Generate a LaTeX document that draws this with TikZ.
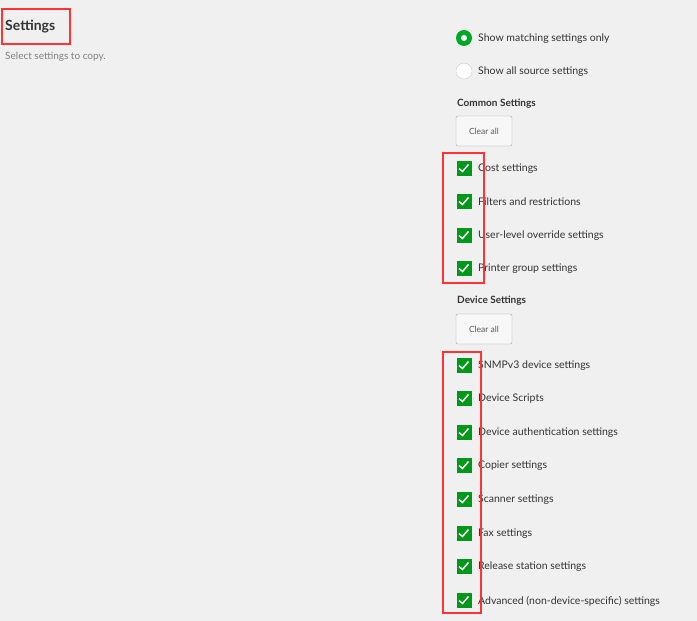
\documentclass[tikz,border=0pt]{standalone}
\usepackage{fontspec}
\setmainfont{Lato}
\begin{document}
\begin{tikzpicture}[x=1pt,y=-1pt,
 lbl/.style={anchor=west,inner sep=0,font=\fontsize{10.5}{12}\selectfont,text=black!80},
 chk/.style={fill=green!55!black!90!cyan,minimum size=15,inner sep=0,draw=none},
 redbox/.style={draw=red!80!white,line width=2.2pt},
 btn/.style={draw=gray!70,fill=gray!6,rounded corners=2,minimum width=56,minimum height=30,font=\fontsize{8.5}{10}\selectfont,text=black!65}]
\fill[gray!12] (0,0) rectangle (697,621);
\useasboundingbox (0,0) rectangle (697,621);
\node[anchor=west,inner sep=0,font=\bfseries\fontsize{14}{16}\selectfont,text=black!80] (title) at (5,27) {Settings};
\node[anchor=west,inner sep=0,font=\fontsize{10}{12}\selectfont,text=gray] (sub) at (5,57) {Select settings to copy.};
\draw[redbox] (2,9) rectangle (70,44);
\node[circle,fill=green!60!black!85!cyan,minimum size=16,inner sep=0] (r1) at (464,38) {};
\node[circle,fill=white,minimum size=6,inner sep=0] at (r1) {};
\node[lbl] (t1) at (478,39) {Show matching settings only};
\node[circle,fill=white,draw=gray!40,minimum size=16,inner sep=0] (r2) at (464,71) {};
\node[lbl] (t2) at (478,72) {Show all source settings};
\node[lbl,font=\bfseries\fontsize{10}{12}\selectfont] (cs) at (457,104) {Common Settings};
\node[btn] (b1) at (484,131) {Clear all};
\node[lbl,font=\bfseries\fontsize{10}{12}\selectfont] (ds) at (457,301) {Device Settings};
\node[btn] (b2) at (484,329) {Clear all};
\foreach \y/\t in {168/Cost settings,201/Filters and restrictions,235/User-level override settings,268/Printer group settings,365/SNMPv3 device settings,398/Device Scripts,432/Device authentication settings,465/Copier settings,499/Scanner settings,533/Fax settings,566/Release station settings,600/Advanced (non-device-specific) settings}{
 \node[chk] (c\y) at (464,\y) {};
 \draw[white,line width=1.5pt] (459,\y) ++(0,0.5) -- ++(3.5,3) -- ++(6,-7);
 \node[lbl] (l\y) at (478,\y+1) {\t};
}
\draw[redbox] (443,153) rectangle (484,283);
\draw[redbox] (443,352) rectangle (481,613);
\end{tikzpicture}
\end{document}
